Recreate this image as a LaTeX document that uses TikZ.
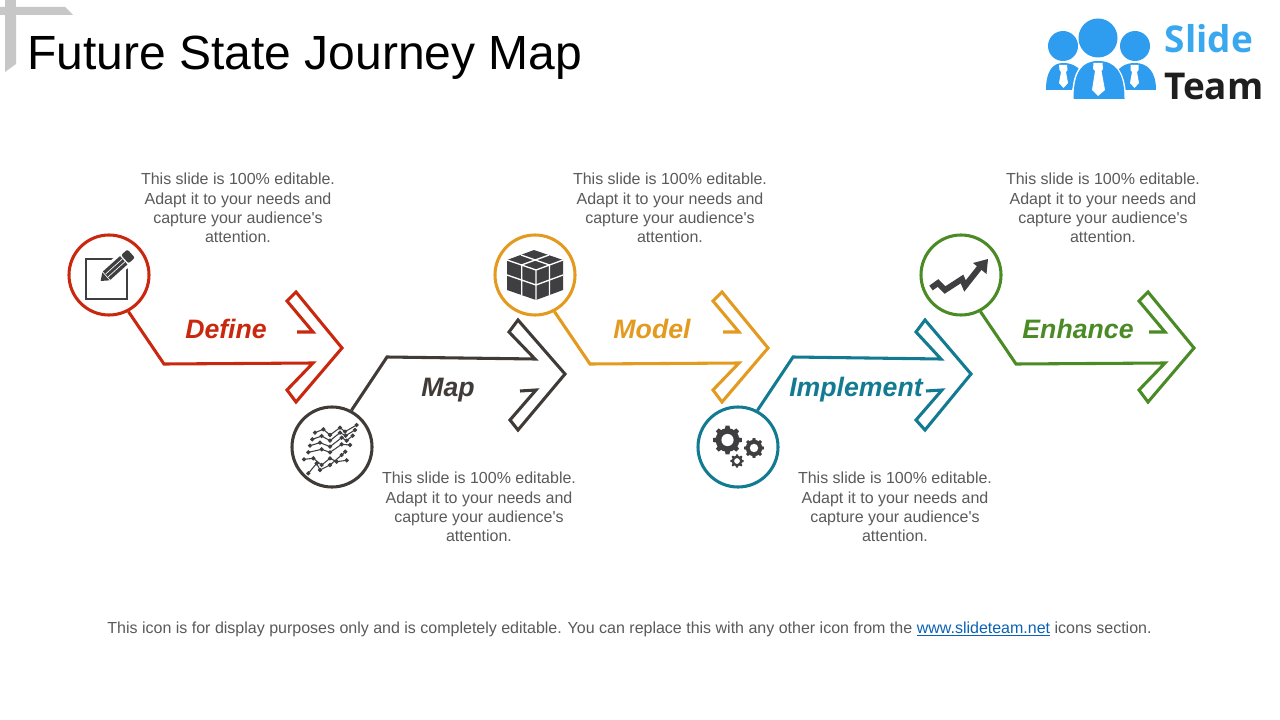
\documentclass[tikz,border=0pt]{standalone}
\usepackage{fontspec}
\setmainfont{Liberation Sans}
\newfontfamily\plainfont{Liberation Sans}
\newfontfamily\logofont{Open Sans}
\usetikzlibrary{plotmarks}
\definecolor{cred}{HTML}{C9280F}
\definecolor{cbrown}{HTML}{413B38}
\definecolor{corange}{HTML}{E39A1F}
\definecolor{cteal}{HTML}{127B91}
\definecolor{cgreen}{HTML}{4B8B26}
\definecolor{cicon}{HTML}{3F3F41}
\definecolor{cbody}{HTML}{5A5A5A}
\definecolor{clogo}{HTML}{2E9DF0}
\definecolor{clogot}{HTML}{3AA8EE}
\definecolor{clink}{HTML}{0B62B5}
\newcommand{\gearicon}[4]{% x y radius teeth
  \fill[cicon,shift={(#1,#2)}] \foreach \t in {1,...,#4}{
     (360/#4*\t-105/#4:#3*0.78) -- (360/#4*\t-62/#4:#3) -- (360/#4*\t+62/#4:#3) -- (360/#4*\t+105/#4:#3*0.78) -- (360/#4*\t+180/#4:#3*0.78) -- cycle
  };
  \fill[cicon] (#1,#2) circle[radius=#3*0.82];
  \fill[white] (#1,#2) circle[radius=#3*0.42];
}
\tikzset{
  x=0.75pt,y=-0.75pt,
  ring/.style={circle,draw=#1,line width=2.3pt,minimum size=80*0.75pt,inner sep=0pt},
  outline/.style={draw=#1,line width=2.3pt,line join=miter,miter limit=6},
  steplabel/.style={font=\fontsize{20}{24}\selectfont\bfseries\itshape,text=#1,inner sep=0pt},
  bodynote/.style={font=\plainfont\fontsize{12}{14.4}\selectfont,text=cbody,align=center,inner sep=0pt},
  netline/.style={draw=cicon,line width=0.8pt,mark=*,mark size=1.15pt,mark options={fill=cicon,draw=cicon}},
}
\begin{document}
\begin{tikzpicture}
\useasboundingbox (0,0) rectangle (1280,720);
\fill[white] (0,0) rectangle (1280,720);
% corner mark
\fill[black!22] (0,7) -- (65,7) -- (73,15) -- (16,15) -- (16,64) -- (5,72) -- (5,15) -- (0,15) -- cycle;
\fill[black!22] (5,0) rectangle (16,7);
% title
\node[anchor=base west,inner sep=0pt,font=\fontsize{36}{40}\selectfont] (title) at (27,70) {Future State Journey Map};
% logo
\fill[clogo] (1098,38) circle[radius=19.5];
\fill[clogo] (1063,46) circle[radius=15];
\fill[clogo] (1135,46) circle[radius=15];
\fill[clogo] (1046,90) .. controls (1046,72) and (1052,63) .. (1063,63) .. controls (1072,63) and (1076,66) .. (1080,70) -- (1072,90) -- cycle;
\fill[clogo] (1156,90) .. controls (1156,72) and (1148,63) .. (1135,63) .. controls (1126,63) and (1122,66) .. (1118,70) -- (1124,90) -- cycle;
\fill[white] (1072,99) .. controls (1072,72) and (1080,60) .. (1098,60) .. controls (1116,60) and (1126,72) .. (1126,99) -- cycle;
\fill[clogo] (1073.5,99) .. controls (1073.5,72) and (1082,61) .. (1098,61) .. controls (1115,61) and (1124.5,72) .. (1124.5,99) -- cycle;
\fill[white] (1093.5,63) -- (1102.5,63) -- (1103,69) -- (1101.5,71) -- (1105,90) -- (1098,96) -- (1092,90) -- (1095,71) -- (1093,69) -- cycle;
\fill[white] (1059,65) -- (1067,65) -- (1067.5,70) -- (1066,72) -- (1068,83) -- (1063.5,88) -- (1059,83) -- (1061,72) -- (1059.5,70) -- cycle;
\fill[white] (1130.5,65) -- (1138.5,65) -- (1138.5,70) -- (1137,72) -- (1139,83) -- (1134.5,88) -- (1130,83) -- (1132,72) -- (1130.5,70) -- cycle;
\node[anchor=base west,inner sep=0pt,text=clogot,font=\logofont\fontsize{27.7}{30}\selectfont\bfseries] (logoa) at (1164.5,53) {Slide};
\node[anchor=base west,inner sep=0pt,text=black!88,font=\logofont\fontsize{27.7}{30}\selectfont\bfseries] (logob) at (1164,100) {Team};
% circles
\node[ring=cred] (c1) at (109,275) {};
\node[ring=cbrown] (c2) at (332,447) {};
\node[ring=corange] (c3) at (535,275) {};
\node[ring=cteal] (c4) at (738,447) {};
\node[ring=cgreen] (c5) at (961,275) {};
% arrows
\draw[outline=cred] (c1.-62) -- (164,364) -- (313,363) -- (287,390) -- (296,402) -- (342,348) -- (296,292) -- (287,301) -- (313,332) -- (297,332);
\draw[outline=cbrown] (c2.62) -- (387,357) -- (535,359) -- (509,332) -- (518,320) -- (565,374) -- (518,430) -- (510,420) -- (536,390) -- (520,391);
\draw[outline=corange] (c3.-62) -- (590,364) -- (739,363) -- (713,390) -- (722,402) -- (768,348) -- (722,292) -- (713,301) -- (739,332) -- (723,332);
\draw[outline=cteal] (c4.62) -- (793,357) -- (941,359) -- (916,332) -- (925,320) -- (971,374) -- (925,430) -- (916,420) -- (942,390) -- (926,391);
\draw[outline=cgreen] (c5.-62) -- (1016,364) -- (1165,363) -- (1139,390) -- (1148,402) -- (1194,348) -- (1148,292) -- (1139,301) -- (1165,332) -- (1149,332);
% labels
\node[steplabel=cred] (l1) at (226,329) {Define};
\node[steplabel=cbrown] (l2) at (448,390) {Map};
\node[steplabel=corange] (l3) at (652,329) {Model};
\node[steplabel=cteal] (l4) at (856,390) {Implement};
\node[steplabel=cgreen] (l5) at (1078,329) {Enhance};
% notes
\node[bodynote] (n1) at (238,208) {This slide is 100\% editable.\\Adapt it to your needs and\\capture your audience's\\attention.};
\node[bodynote] (n2) at (479,507) {This slide is 100\% editable.\\Adapt it to your needs and\\capture your audience's\\attention.};
\node[bodynote] (n3) at (670,208) {This slide is 100\% editable.\\Adapt it to your needs and\\capture your audience's\\attention.};
\node[bodynote] (n4) at (895,507) {This slide is 100\% editable.\\Adapt it to your needs and\\capture your audience's\\attention.};
\node[bodynote] (n5) at (1103,208) {This slide is 100\% editable.\\Adapt it to your needs and\\capture your audience's\\attention.};
\node[bodynote] (foot) at (629.5,629) {This icon is for display purposes only and is completely editable. You can replace this with any other icon from the {\color{clink}\underline{www.slideteam.net}} icons section.};
% pencil icon
\draw[cicon,line width=1.3pt] (86,259) rectangle (127,299);
\begin{scope}[shift={(100.7,281)},rotate=42]
  \fill[white] (-2,-8.5) rectangle (44,8.5);
  \fill[cicon] (0,0) -- (7,-5.4) -- (7,5.4) -- cycle;
  \fill[cicon] (8,-5.6) -- (31,-5.6) -- (31,5.6) -- (8,5.6) -- cycle;
  \draw[white,line width=0.5pt] (8.5,-1.9) -- (31,-1.9) (8.5,1.9) -- (31,1.9);
  \fill[cicon,rounded corners=1.5pt] (32.5,-5.6) rectangle (41,5.6);
\end{scope}
% network icon
\begin{scope}[shift={(280,395)},x=0.25pt,y=-0.25pt]
  \draw[netline] plot coordinates {(105,113)(130,103)(150,120)(180,98)(195,110)(230,90)};
  \draw[netline] plot coordinates {(97,133)(125,123)(150,137)(180,113)(197,122)(225,105)};
  \draw[netline] plot coordinates {(90,152)(120,143)(150,155)(185,128)(200,137)(218,122)};
  \draw[netline] plot coordinates {(85,172)(125,163)(150,172)(185,148)(210,150)};
  \draw[netline] plot coordinates {(72,193)(100,190)(125,210)(150,190)(170,200)(200,196)};
  \draw[netline] plot coordinates {(85,235)(110,205)(120,225)(150,210)(185,180)(196,170)};
\end{scope}
% cube icon
\fill[cicon] (534,250) -- (563,260) -- (563,290) -- (536,300) -- (507,290) -- (507,260) -- cycle;
\draw[white,line width=1pt] (507,260) -- (536,270) -- (563,260) (536,270) -- (536,300)
  (521,255) -- (549.5,265) (549,255) -- (521.5,265)
  (507,275) -- (536,285) -- (563,275)
  (521.7,265) -- (521.7,295) (549.5,265) -- (549.5,295);
% gear icon
\gearicon{727.5}{440}{14.5}{8}
\gearicon{754}{448}{10}{8}
\gearicon{737}{461}{6.8}{8}
% chart icon
\draw[cicon,line width=4.4pt,line join=miter] (931,288) -- (938,283) -- (945,290) -- (962,279) -- (965,286) -- (980,267);
\fill[cicon] (988,259) -- (986.5,274) -- (973,263) -- cycle;
\end{tikzpicture}
\end{document}
